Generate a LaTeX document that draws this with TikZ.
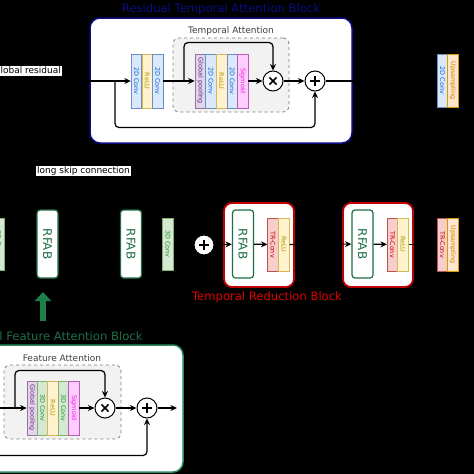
\documentclass[tikz,border=0pt]{standalone}
\usepackage{fontspec}
\setmainfont{DejaVu Sans}
\usepackage{graphicx}
\usetikzlibrary{arrows.meta,calc}

\definecolor{navyb}{HTML}{0C0C86}
\definecolor{rfabgreen}{HTML}{1E6E46}
\definecolor{blkgreen}{HTML}{2E8A5C}
\definecolor{trbred}{HTML}{C00000}
\definecolor{titlered}{HTML}{E00000}
\definecolor{attgray}{HTML}{F2F2F2}
\definecolor{convfill}{HTML}{DAE8FC}
\definecolor{convline}{HTML}{6C8EBF}
\definecolor{convtext}{HTML}{1060C8}
\definecolor{relufill}{HTML}{FFF2CC}
\definecolor{reluline}{HTML}{D6B656}
\definecolor{relutext}{HTML}{A89800}
\definecolor{poolfill}{HTML}{E1D5E7}
\definecolor{poolline}{HTML}{9673A6}
\definecolor{pooltext}{HTML}{6A2C91}
\definecolor{sigfill}{HTML}{FFCCFF}
\definecolor{sigline}{HTML}{B45FB4}
\definecolor{sigtext}{HTML}{F020D8}
\definecolor{tdfill}{HTML}{D5E8D4}
\definecolor{tdline}{HTML}{82B366}
\definecolor{tdtext}{HTML}{259025}
\definecolor{trfill}{HTML}{F8CECC}
\definecolor{trline}{HTML}{B85450}
\definecolor{trtext}{HTML}{CC0000}
\definecolor{upfill}{HTML}{FFE6CC}
\definecolor{upline}{HTML}{D79B00}
\definecolor{uptext}{HTML}{D08000}
\definecolor{bigarrow}{HTML}{1E7F4A}

\newcommand{\vtext}[1]{\rotatebox[origin=c]{-90}{#1}}

\tikzset{
  strip/.style={minimum width=10.6pt, minimum height=54pt, inner sep=0pt,
    line width=0.5pt, font=\fontsize{6.4}{7}\selectfont},
  conv2d/.style={strip, fill=convfill, draw=convline, text=convtext},
  conv3d/.style={strip, fill=tdfill, draw=tdline, text=tdtext},
  relu/.style={strip, fill=relufill, draw=reluline, text=relutext},
  pool/.style={strip, fill=poolfill, draw=poolline, text=pooltext},
  sigm/.style={strip, fill=sigfill, draw=sigline, text=sigtext},
  trconv/.style={strip, minimum height=53pt, fill=trfill, draw=trline, text=trtext},
  upsamp/.style={strip, minimum height=53pt, fill=upfill, draw=upline, text=uptext},
  blockbox/.style={fill=white, rounded corners=10pt, line width=1.5pt},
  attbox/.style={draw=gray, fill=attgray, dashed, rounded corners=6pt, line width=0.8pt},
  rfabnode/.style={draw=rfabgreen, fill=white, rounded corners=3pt, line width=1.2pt,
    minimum width=21pt, minimum height=68pt, inner sep=0pt, text=rfabgreen,
    font=\fontsize{12}{14}\selectfont},
  trbbox/.style={draw=trbred, fill=white, rounded corners=8pt, line width=1.8pt,
    minimum width=70pt, minimum height=84pt},
  op/.style={circle, draw, fill=white, line width=1pt, minimum size=20pt, inner sep=0pt},
  mulop/.style={op, path picture={
    \draw[line width=1.7pt]
      ([shift={(-3.6pt,-3.6pt)}]path picture bounding box.center) -- ([shift={(3.6pt,3.6pt)}]path picture bounding box.center)
      ([shift={(-3.6pt,3.6pt)}]path picture bounding box.center) -- ([shift={(3.6pt,-3.6pt)}]path picture bounding box.center);}},
  addop/.style={op, path picture={
    \draw[line width=1.7pt]
      ([xshift=-5pt]path picture bounding box.center) -- ([xshift=5pt]path picture bounding box.center)
      ([yshift=-5pt]path picture bounding box.center) -- ([yshift=5pt]path picture bounding box.center);}},
  arr/.style={-{Stealth[length=6.5pt,width=6pt]}, line width=1.2pt},
  plainline/.style={line width=1.2pt},
  blocktitle/.style={font=\fontsize{11.6}{13}\selectfont},
  subtitle/.style={font=\fontsize{9}{11}\selectfont, text=black!75},
  whitelabel/.style={fill=white, text=black, inner sep=1pt, font=\fontsize{9}{11}\selectfont}
}

\begin{document}
\begin{tikzpicture}[x=1pt,y=-1pt]

\fill[black] (0,0) rectangle (474,474);
\useasboundingbox (0,0) rectangle (474,474);
\clip (0,0) rectangle (474,474);

% residual temporal attention block
\node[blockbox, draw=navyb, minimum width=262pt, minimum height=125pt] (rtab) at (221,80.5) {};
\node[blocktitle, text=navyb] (rtabtitle) at (221,9) {Residual Temporal Attention Block};
\node[whitelabel, anchor=east] (globres) at (62,71) {global residual};

\node[attbox, minimum width=116pt, minimum height=74pt] (ta) at (231,75) {};
\node[subtitle] (tatitle) at (231,31) {Temporal Attention};

\foreach \n/\s/\t [count=\i] in {c1/conv2d/2D Conv, r1/relu/ReLU, c2/conv2d/2D Conv}
  \node[\s] (\n) at ({131+10.7*(\i-0.5)},81) {\vtext{\t}};

\foreach \n/\s/\t [count=\i] in {tgp/pool/Global pooling, tc1/conv2d/2D Conv, tr/relu/ReLU, tc2/conv2d/2D Conv, tsig/sigm/Sigmoid}
  \node[\s] (\n) at ({195+10.6*(\i-0.5)},81) {\vtext{\t}};

\node[mulop] (tmul) at (273,81) {};
\node[addop] (tadd) at (315,81) {};

\coordinate (tin) at (80,81);
\coordinate (tsplit) at (115,81);
\coordinate (tasplit) at (184,81);
\coordinate (tout) at (362,81);

\draw[arr] (tin) -- (c1.west);
\draw[arr] (c2.east) -- (tgp.west);
\draw[arr] (tsig.east) -- (tmul);
\draw[arr] (tmul) -- (tadd);
\draw[plainline] (tadd) -- (tout);
\draw[arr, rounded corners=4pt] (tsplit) |- ([yshift=-36pt]tadd.south) -- (tadd.south);
\draw[arr, rounded corners=4pt] (tasplit) |- ([yshift=28pt]tmul.north) -- (tmul.north);

\node[conv2d, minimum height=53pt] (outc) at (442.5,80.5) {\vtext{2D Conv}};
\node[upsamp] (outup) at (453,80.5) {\vtext{Upsampling}};

% main row
\node[whitelabel] (lskip) at (83.5,171) {long skip connection};

\node[conv3d, minimum height=52pt] (inconv) at (-1.3,244) {\vtext{3D Conv}};
\node[rfabnode] (rfab1) at (47.5,244) {\vtext{RFAB}};
\node[rfabnode] (rfab2) at (131,244) {\vtext{RFAB}};
\node[conv3d, minimum height=52pt] (midconv) at (168,244) {\vtext{3D Conv}};
\node[op, minimum size=18pt, addop] (madd) at (204,245) {};

\node[trbbox] (trb1) at (259,245) {};
\node[rfabnode] (rfab3) at (243,244) {\vtext{RFAB}};
\node[trconv] (trc1) at (273,244.5) {\vtext{TR-Conv}};
\node[relu, minimum height=53pt] (trr1) at (284,244.5) {\vtext{ReLU}};

\node[trbbox] (trb2) at (378,245) {};
\node[rfabnode] (rfab4) at (362.5,244) {\vtext{RFAB}};
\node[trconv] (trc2) at (392.5,244.5) {\vtext{TR-Conv}};
\node[relu, minimum height=53pt] (trr2) at (403,244.5) {\vtext{ReLU}};

\node[blocktitle, text=titlered] (trbtitle) at (267,297) {Temporal Reduction Block};

\node[trconv] (trc3) at (442.5,244.5) {\vtext{TR-Conv}};
\node[upsamp] (trup) at (453,244.5) {\vtext{Upsampling}};

\draw[arr] (madd) -- (rfab3);
\draw[arr] (rfab3) -- (trc1);
\draw[arr] (trr1) -- (rfab4);
\draw[arr] (rfab4) -- (trc2);
\draw[arr] (trr2) -- (trc3);

\coordinate (gbot) at (43,321);
\coordinate (gtop) at (43,292);
\draw[bigarrow, line width=5.5pt, -{Triangle[width=16pt,length=9pt]}] (gbot) -- (gtop);

% residual feature attention block
\node[blockbox, draw=blkgreen, minimum width=262pt, minimum height=127pt] (rfab) at (52,408.5) {};
\node[blocktitle, text=rfabgreen, anchor=east] (rfabtitle) at (146,336) {Residual Feature Attention Block};

\node[attbox, minimum width=117pt, minimum height=74pt] (fa) at (62.5,402) {};
\node[subtitle] (fatitle) at (62,358) {Feature Attention};

\foreach \n/\s/\t [count=\i] in {fgp/pool/Global pooling, fc1/conv3d/3D Conv, fr/relu/ReLU, fc2/conv3d/3D Conv, fsig/sigm/Sigmoid}
  \node[\s] (\n) at ({27+10.4*(\i-0.5)},408) {\vtext{\t}};

\node[mulop] (fmul) at (105,408) {};
\node[addop] (fadd) at (147,408) {};

\coordinate (fin) at (-70,408);
\coordinate (fsplit) at (-54,408);
\coordinate (fasplit) at (15,408);
\coordinate (fout) at (177,408);

\draw[arr] (fin) -- (fgp.west);
\draw[arr] (fsig.east) -- (fmul);
\draw[arr] (fmul) -- (fadd);
\draw[arr] (fadd) -- (fout);
\draw[arr, rounded corners=4pt] (fsplit) |- ([yshift=-37pt]fadd.south) -- (fadd.south);
\draw[arr, rounded corners=4pt] (fasplit) |- ([yshift=27pt]fmul.north) -- (fmul.north);

\end{tikzpicture}
\end{document}
